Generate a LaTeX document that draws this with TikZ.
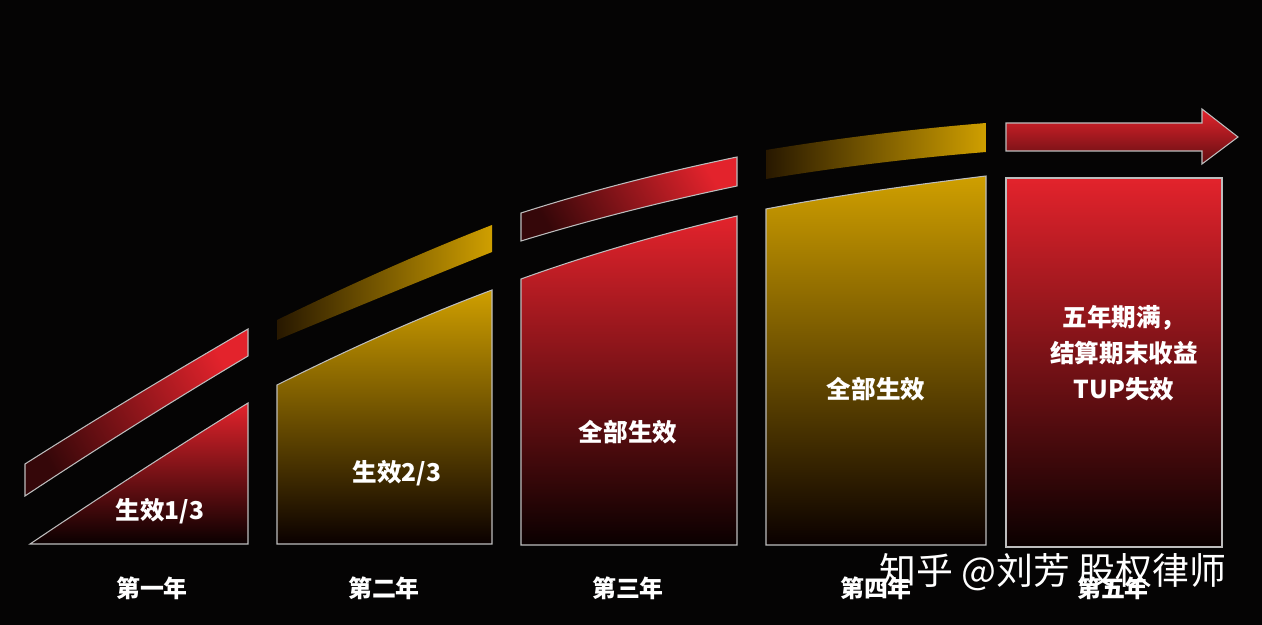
\documentclass[tikz,border=0pt]{standalone}
\usepackage{fontspec}
\setmainfont{Noto Sans CJK SC}
\definecolor{bg}{HTML}{050404}
\definecolor{rd}{HTML}{E3232C}
\definecolor{gd}{HTML}{CF9F00}
\definecolor{dk}{HTML}{0A0000}
\definecolor{edgec}{HTML}{BDBDBD}
\tikzset{
  redbox/.style={draw=edgec, line width=0.6pt, top color=rd, bottom color=dk},
  goldbox/.style={draw=edgec, line width=0.6pt, top color=gd, bottom color=dk},
  redband/.style={draw=edgec, line width=0.6pt, top color=rd, bottom color=dk!80!rd, shading angle=-60},
  goldband/.style={left color=dk!85!gd, right color=gd},
  boxtext/.style={text=white, font=\fontsize{14}{17}\selectfont\bfseries},
  yeartext/.style={text=white, font=\fontsize{13.6}{16}\selectfont\bfseries},
  marktext/.style={text=white, font=\fontsize{21}{24}\selectfont}
}
\begin{document}
\begin{tikzpicture}[x=0.02cm, y=-0.02cm]
\fill[bg] (0,0) rectangle (1262,625);
\useasboundingbox (0,0) rectangle (1262,625);
% year 1
\path[redband] (25,464) .. controls (99,417) and (174,372) .. (248,329) -- (248,356) .. controls (174,400) and (99,447) .. (25,496) -- cycle;
\path[redbox] (30,544) .. controls (103,495) and (175,448) .. (248,403) -- (248,544) -- cycle;
% year 2
\path[goldband] (277,320) .. controls (349,285) and (420,253) .. (492,225) -- (492,252) .. controls (420,281) and (349,310) .. (277,340) -- cycle;
\path[goldbox] (277,385) .. controls (349,349) and (420,317) .. (492,290) -- (492,544) -- (277,544) -- cycle;
% year 3
\path[redband] (521,213) .. controls (593,190) and (665,172) .. (737,157) -- (737,186) .. controls (665,201) and (593,219) .. (521,241) -- cycle;
\path[redbox] (521,279) .. controls (593,253) and (665,233) .. (737,216) -- (737,545) -- (521,545) -- cycle;
% year 4
\path[goldband] (766,150) .. controls (839,138) and (913,129) .. (986,123) -- (986,152) .. controls (913,158) and (839,167) .. (766,179) -- cycle;
\path[goldbox] (766,209) .. controls (839,195) and (913,185) .. (986,176) -- (986,545) -- (766,545) -- cycle;
% year 5
\path[draw=edgec, line width=0.6pt, top color=rd, bottom color=dk!60!rd] (1006,123) -- (1202,123) -- (1202,109) -- (1238,137) -- (1202,164) -- (1202,151) -- (1006,151) -- cycle;
\path[redbox] (1006,178) rectangle (1222,547);
% texts
\node[boxtext] (t1) at (160,511) {生效1/3};
\node[boxtext] (t2) at (397,473) {生效2/3};
\node[boxtext] (t3) at (628,432) {全部生效};
\node[boxtext] (t4) at (876,389) {全部生效};
\node[boxtext, align=center, font=\fontsize{14}{20.5}\selectfont\bfseries] (t5) at (1124,353) {五年期满，\\结算期末收益\\TUP失效};
\node[yeartext] (y1) at (152,588) {第一年};
\node[yeartext] (y2) at (384,588) {第二年};
\node[yeartext] (y3) at (628,588) {第三年};
\node[yeartext] (y4) at (876,588) {第四年};
\node[yeartext] (y5) at (1113,588) {第五年};
\node[marktext] (wm) at (1053,572) {知乎 @刘芳 股权律师};
\end{tikzpicture}
\end{document}
